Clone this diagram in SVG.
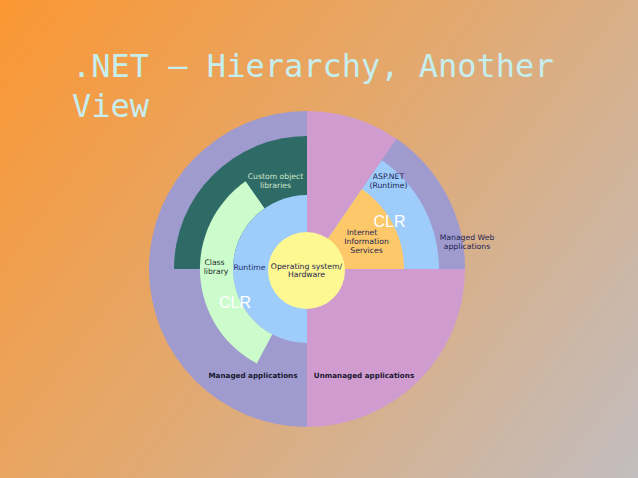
<svg xmlns="http://www.w3.org/2000/svg" width="638" height="478" viewBox="0 0 638 478">
<defs>
<linearGradient id="bg" x1="0" y1="0" x2="638" y2="478" gradientUnits="userSpaceOnUse">
<stop offset="0" stop-color="#fb9733"/>
<stop offset="0.45" stop-color="#e4a86c"/>
<stop offset="1" stop-color="#c2bdbf"/>
</linearGradient>
</defs>
<style>
.lbl{font-family:"DejaVu Sans","Liberation Sans",sans-serif;font-size:7.7px;fill:#1c2250;text-anchor:middle}
.bold{font-family:"DejaVu Sans","Liberation Sans",sans-serif;font-size:7.2px;font-weight:bold;fill:#181830;text-anchor:middle}
.clr{font-family:"Liberation Sans",Arial,sans-serif;font-size:16px;fill:#ffffff;text-anchor:middle}
.title{font-family:"DejaVu Sans Mono","Liberation Mono",monospace;font-size:32px;fill:#c6eeee}
</style>
<rect x="0" y="0" width="638" height="478" fill="url(#bg)"/>
<g id="title">
<text class="title" x="72" y="77">.NET – Hierarchy, Another</text>
<text class="title" x="72" y="117">View</text>
</g>
<g id="managed-applications">
<path d="M307,111 A158,158 0 0 0 307,427 Z" fill="#9f9bcf"/>
<text class="bold" x="253" y="377.6">Managed applications</text>
</g>
<g id="unmanaged-applications">
<path d="M307,111 A158,158 0 0 1 307,427 Z" fill="#d09cd0"/>
<text class="bold" x="364" y="377.6">Unmanaged applications</text>
</g>
<g id="managed-web-applications">
<path d="M307,269 L465,269 A158,158 0 0 0 396.5,138.8 Z" fill="#9f9bcf"/>
<text class="lbl" x="467" y="240.2">Managed Web</text>
<text class="lbl" x="467" y="249.2">applications</text>
</g>
<g id="aspnet-runtime">
<path d="M307,269 L439,269 A132,132 0 0 0 381.8,160.2 Z" fill="#9fcdfb"/>
<text class="lbl" x="388.5" y="179.2">ASP.NET</text>
<text class="lbl" x="388.5" y="188.4">(Runtime)</text>
</g>
<g id="iis">
<path d="M307,269 L404,269 A97,97 0 0 0 361.9,189.1 Z" fill="#fcc86a"/>
<text class="lbl" x="362" y="235.2">Internet</text>
<text class="lbl" x="366.5" y="244.2">Information</text>
<text class="lbl" x="366.5" y="252.8">Services</text>
</g>
<g id="clr-right">
<text class="clr" x="389.5" y="227">CLR</text>
</g>
<g id="custom-object-libraries">
<path d="M307,269 L174,269 A133,133 0 0 1 307,136 Z" fill="#2f6b66"/>
<text class="lbl" x="275.5" y="179.4" style="fill:#cfe8cc">Custom object</text>
<text class="lbl" x="275.5" y="188" style="fill:#cfe8cc">libraries</text>
</g>
<g id="class-library">
<path d="M245.6,181.3 A107,107 0 0 0 256.8,363.5 L272.3,334.3 A74,74 0 0 1 264.6,208.4 Z" fill="#ccfccc"/>
<text class="lbl" x="214.5" y="265.3" style="fill:#1e2a2a">Class</text>
<text class="lbl" x="216" y="274" style="fill:#1e2a2a">library</text>
</g>
<g id="runtime">
<path d="M307,195 A74,74 0 0 0 307,343 Z" fill="#9fcdfb"/>
<text class="lbl" x="249.5" y="270.2" style="fill:#1a2a70">Runtime</text>
</g>
<g id="clr-left">
<text class="clr" x="235" y="307.5">CLR</text>
</g>
<g id="os-hardware">
<circle cx="306.5" cy="270.5" r="38.5" fill="#fdf891"/>
<text class="lbl" x="306.5" y="268.6">Operating system/</text>
<text class="lbl" x="306.5" y="277">Hardware</text>
</g>
<g id="connectors"/>
</svg>
